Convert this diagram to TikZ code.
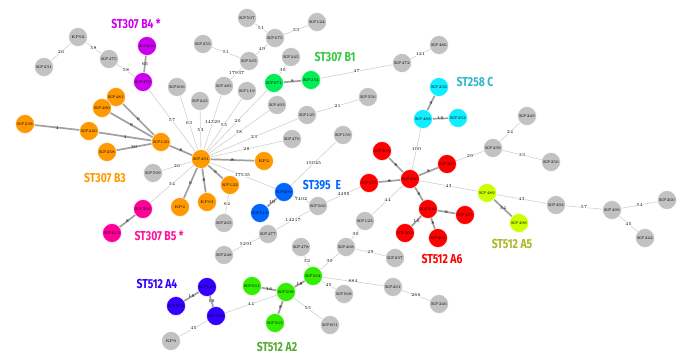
\documentclass[tikz,border=0pt]{standalone}
\usepackage{fontspec}
\usepackage{tikz}
\usetikzlibrary{positioning}
\newfontfamily\clusterfont[FakeStretch=0.8]{Fira Sans}
\definecolor{NodeGray}{HTML}{C2C2C2}
\definecolor{LinkGray}{HTML}{CFCFCF}
\definecolor{HeavyGray}{HTML}{A0A0A0}
\definecolor{OrangeBthree}{HTML}{FF9900}
\definecolor{VioletBfour}{HTML}{CC00EE}
\definecolor{PinkBfive}{HTML}{FF0099}
\definecolor{GreenBone}{HTML}{00EE55}
\definecolor{CyanC}{HTML}{11EEFF}
\definecolor{BlueE}{HTML}{0066FF}
\definecolor{RedAsix}{HTML}{FF0000}
\definecolor{LimeAfive}{HTML}{CCFF00}
\definecolor{IndigoAfour}{HTML}{3300FF}
\definecolor{GreenAtwo}{HTML}{33EE00}
\definecolor{TextBone}{HTML}{33C840}
\definecolor{TextC}{HTML}{30B8C8}
\definecolor{TextAfive}{HTML}{AAB822}
\definecolor{TextAtwo}{HTML}{55AA33}
\definecolor{TextBfive}{HTML}{FF1199}

\begin{document}
\begin{tikzpicture}[x=1pt,y=-1pt,
    kp/.style={circle,minimum size=19pt,inner sep=0pt,draw=white,line width=0.5pt,
               fill=#1,font=\fontsize{4}{4}\selectfont},
    kp/.default=NodeGray,
    lnk/.style={draw=LinkGray,line width=0.6pt},
    hvy/.style={draw=HeavyGray,line width=1.7pt},
    wt/.style={midway,fill=white,inner sep=0.3pt,font=\fontsize{4.5}{4.5}\selectfont},
    hwt/.style={midway,inner sep=0.3pt,font=\fontsize{4.5}{4.5}\selectfont},
    clus/.style={font=\clusterfont\bfseries\fontsize{13}{13}\selectfont,text=#1}]
  \useasboundingbox (0,0) rectangle (693,359);

  % ST307 B4 and the upper left
  \node[kp] (KP92) at (78,37) {KP92};
  \node[kp] (KP231) at (44,67) {KP231};
  \node[kp] (KP475) at (109,59) {KP475};
  \node[kp=VioletBfour] (KP236) at (147,46) {KP236};
  \node[kp=VioletBfour] (KP479) at (143,82) {KP479};
  \node[kp] (KP606) at (177,87) {KP606};
  \node[kp] (KP243) at (200,101) {KP243};
  \node[kp] (KP485) at (224,86) {KP485};
  \node[kp] (KP119) at (247,91) {KP119};
  \node[kp] (KP255) at (203,44) {KP255};
  \node[kp] (KP565) at (249,61) {KP565};
  \node[kp] (KP597) at (247,18) {KP597};
  \node[kp] (KP675) at (275,38) {KP675};
  \node[kp] (KP124) at (317,22) {KP124};

  % ST307 B3
  \node[kp=OrangeBthree] (KP481) at (116,97) {KP481};
  \node[kp=OrangeBthree] (KP480) at (102,108) {KP480};
  \node[kp=OrangeBthree] (KP238) at (25,124) {KP238};
  \node[kp=OrangeBthree] (KP240) at (89,131) {KP240};
  \node[kp=OrangeBthree] (KP120) at (161,142) {KP120};
  \node[kp=OrangeBthree] (KP258) at (107,152) {KP258};
  \node[kp=OrangeBthree] (KP491) at (201,159) {KP491};
  \node[kp=OrangeBthree] (KP2) at (264,161) {KP2};
  \node[kp=OrangeBthree] (KP122) at (230,185) {KP122};
  \node[kp=OrangeBthree] (KP93) at (207,202) {KP93};
  \node[kp=OrangeBthree] (KP4) at (180,207) {KP4};
  \node[kp] (KP599) at (153,173) {KP599};
  \node[kp] (KP265) at (224,223) {KP265};

  % ST307 B5
  \node[kp=PinkBfive] (KP396) at (143,209) {KP396};
  \node[kp=PinkBfive] (KP613) at (112,233) {KP613};

  % ST307 B1
  \node[kp] (KP245) at (291,57) {KP245};
  \node[kp=GreenBone] (KP671) at (274,83) {KP671};
  \node[kp=GreenBone] (KP234) at (311,80) {KP234};
  \node[kp] (KP472) at (402,63) {KP472};
  \node[kp] (KP486) at (439,45) {KP486};
  \node[kp] (KP493) at (277,105) {KP493};
  \node[kp] (KP125) at (307,115) {KP125};
  \node[kp] (KP356) at (368,97) {KP356};
  \node[kp] (KP476) at (292,139) {KP476};
  \node[kp] (KP159) at (343,135) {KP159};

  % ST258 C
  \node[kp=CyanC] (KP232) at (439,87) {KP232};
  \node[kp=CyanC] (KP488) at (423,119) {KP488};
  \node[kp=CyanC] (KP252) at (458,118) {KP252};

  % ST395 E
  \node[kp=BlueE] (KP609) at (284,192) {KP609};
  \node[kp=BlueE] (KP118) at (260,213) {KP118};
  \node[kp] (KP566) at (318,206) {KP566};
  \node[kp] (KP477) at (268,234) {KP477};
  \node[kp] (KP248) at (224,255) {KP248};

  % ST512 A6
  \node[kp=RedAsix] (KP308) at (382,151) {KP308};
  \node[kp=RedAsix] (KP307) at (447,164) {KP307};
  \node[kp=RedAsix] (KP555) at (369,183) {KP555};
  \node[kp=RedAsix] (KP496) at (410,179) {KP496};
  \node[kp=RedAsix] (KP506) at (428,209) {KP506};
  \node[kp=RedAsix] (KP133) at (465,215) {KP133};
  \node[kp=RedAsix] (KP502) at (405,233) {KP502};
  \node[kp=RedAsix] (KP605) at (438,238) {KP605};
  \node[kp] (KP239) at (493,148) {KP239};
  \node[kp] (KP249) at (527,116) {KP249};
  \node[kp] (KP256) at (551,162) {KP256};

  % ST512 A5
  \node[kp=LimeAfive] (KP489) at (487,193) {KP489};
  \node[kp=LimeAfive] (KP498) at (519,223) {KP498};
  \node[kp] (KP492) at (556,205) {KP492};
  \node[kp] (KP499) at (612,210) {KP499};
  \node[kp] (KP260) at (667,200) {KP260};
  \node[kp] (KP242) at (645,238) {KP242};

  % ST512 A2 and A4
  \node[kp] (KP123) at (365,221) {KP123};
  \node[kp] (KP468) at (346,247) {KP468};
  \node[kp] (KP237) at (395,258) {KP237};
  \node[kp] (KP478) at (301,247) {KP478};
  \node[kp=GreenAtwo] (KP564) at (313,276) {KP564};
  \node[kp=GreenAtwo] (KP508) at (286,292) {KP508};
  \node[kp=GreenAtwo] (KP561) at (252,286) {KP561};
  \node[kp=GreenAtwo] (KP563) at (275,323) {KP563};
  \node[kp] (KP568) at (344,294) {KP568};
  \node[kp] (KP601) at (330,325) {KP601};
  \node[kp] (KP261) at (393,287) {KP261};
  \node[kp] (KP246) at (439,304) {KP246};
  \node[kp=IndigoAfour] (KP127) at (207,287) {KP127};
  \node[kp=IndigoAfour] (KP503) at (176,306) {KP503};
  \node[kp=IndigoAfour] (KP504) at (216,316) {KP504};
  \node[kp] (KP9) at (171,341) {KP9};

  % links
  \foreach \a/\b/\w in {KP231/KP92/26,KP92/KP475/58,KP475/KP479/58,KP479/KP491/57,
      KP606/KP491/63,KP243/KP491/53,KP485/KP491/14329,KP119/KP491/55,KP671/KP491/20,
      KP493/KP491/38,KP125/KP491/23,KP476/KP491/28,KP609/KP491/17535,KP599/KP491/26,
      KP396/KP491/34,KP255/KP565/51,KP565/KP485/17937,KP597/KP675/51,KP675/KP124/33,
      KP565/KP675/49,KP245/KP671/30,KP234/KP472/47,KP472/KP486/121,KP125/KP356/21,
      KP159/KP609/15045,KP609/KP566/7402,KP566/KP477/14217,KP477/KP248/5291,
      KP566/KP555/4495,KP488/KP496/100,KP307/KP239/29,KP239/KP249/24,KP239/KP256/33,
      KP496/KP489/43,KP489/KP492/43,KP492/KP499/57,KP499/KP260/54,KP499/KP242/45,
      KP496/KP123/44,KP123/KP468/30,KP468/KP237/29,KP468/KP564/30,KP478/KP564/32,
      KP564/KP261/884,KP261/KP246/266,KP564/KP568/45,KP508/KP601/55,KP504/KP508/44,
      KP504/KP9/45,KP122/KP265/64}
    \draw[lnk] (\a) -- node[wt] {\w} (\b);
  \foreach \a/\b/\w in {KP236/KP479/65,KP2/KP491/8,KP122/KP491/9,KP93/KP491/8,
      KP4/KP491/6,KP120/KP491/8,KP481/KP120/6,KP480/KP120/9,KP240/KP120/4,
      KP258/KP120/30,KP238/KP240/4,KP671/KP234/8,KP609/KP118/10,KP555/KP496/8,
      KP308/KP496/8,KP307/KP496/8,KP232/KP488/9,KP488/KP252/16,KP489/KP498/34,
      KP496/KP506/8,KP506/KP133/6,KP506/KP502/10,KP506/KP605/8,KP564/KP508/18,
      KP561/KP508/14,KP508/KP563/8,KP127/KP503/16,KP127/KP504/18,KP396/KP613/8}
    \draw[hvy] (\a) -- node[hwt] {\w} (\b);

  % cluster labels
  \node[clus=VioletBfour] (labBfour) at (136,24) {ST307 B4 *};
  \node[clus=TextBone] (labBone) at (335,57) {ST307 B1};
  \node[clus=TextC] (labC) at (475,82) {ST258 C};
  \node[clus=OrangeBthree] (labBthree) at (105,178) {ST307 B3};
  \node[clus=BlueE] (labE) at (322,185) {ST395\ \ E};
  \node[clus=TextBfive] (labBfive) at (159,236) {ST307 B5 *};
  \node[clus=RedAsix] (labAsix) at (442,259) {ST512 A6};
  \node[clus=TextAfive] (labAfive) at (512,244) {ST512 A5};
  \node[clus=IndigoAfour] (labAfour) at (157,284) {ST512 A4};
  \node[clus=TextAtwo] (labAtwo) at (277,347) {ST512 A2};
\end{tikzpicture}
\end{document}
